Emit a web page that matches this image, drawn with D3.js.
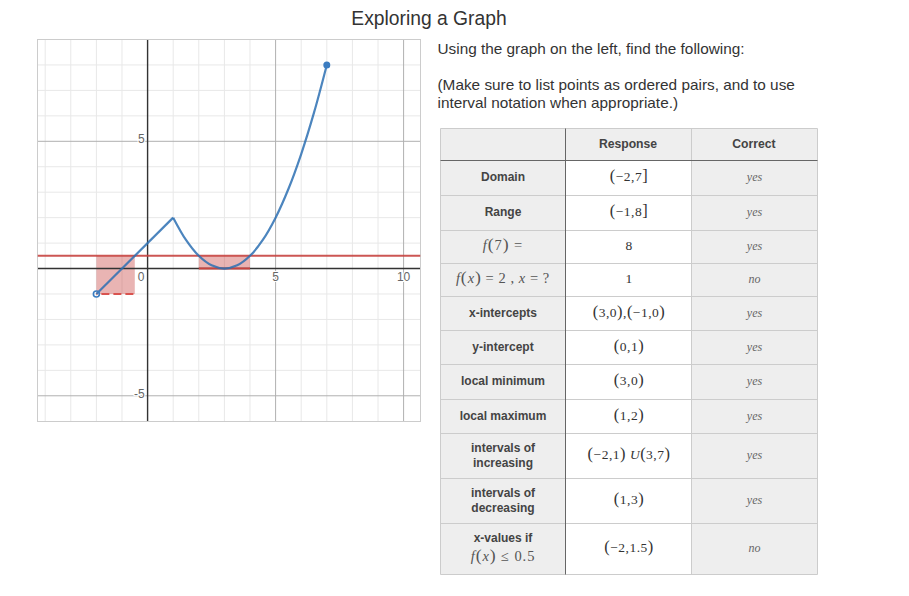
<!DOCTYPE html>
<html><head><meta charset="utf-8">
<script src="https://d3js.org/d3.v7.min.js"></script>
<style>html,body{margin:0;padding:0;background:#fff}svg{display:block}</style>
</head><body><svg id="c" width="909" height="596"></svg>
<script>
const title = "Exploring a Graph";
const intro = ["Using the graph on the left, find the following:", "", "(Make sure to list points as ordered pairs, and to use", "interval notation when appropriate.)"];
const lineX = [-2, 1];
const lineY = [-1, 2];
const curveX = [1, 1.5, 2, 2.5, 3, 3.5, 4, 4.5, 5, 5.5, 6, 6.5, 7];
const curveY = [2, 1.125, 0.5, 0.125, 0, 0.125, 0.5, 1.125, 2, 3.125, 4.5, 6.125, 8];
const refLevel = 0.5;
const shadeX = [[-2, -0.5], [2, 4]];
const shadeY = [[-1, 0.5], [0, 0.5]];
const minorX = [-4, -3, -2, -1, 1, 2, 3, 4, 6, 7, 8, 9];
const majorX = [5, 10];
const minorY = [-4, -3, -2, -1, 1, 2, 3, 4, 6, 7, 8];
const majorY = [-5, 5];
const xTickLabels = [0, 5, 10];
const yTickLabels = [5, -5];
const headers = ["", "Response", "Correct"];
const rowLabels = [["Domain"], ["Range"], ["$f(7) ="], ["$f(x)\u2009=\u20092\u2009,\u2009x\u2009=\u2009?"], ["x-intercepts"], ["y-intercept"], ["local minimum"], ["local maximum"], ["intervals of", "increasing"], ["intervals of", "decreasing"], ["x-values if", "$f(x) \u2264 0.5"]];
const responses = ["(\u22122,7]", "(\u22121,8]", "8", "1", "(3,0),(\u22121,0)", "(0,1)", "(3,0)", "(1,2)", "(\u22122,1) U(3,7)", "(1,3)", "(\u22122,1.5)"];
const corrects = ["yes", "yes", "yes", "no", "yes", "yes", "yes", "yes", "yes", "yes", "no"];
const rowEdges = [128.5, 160.5, 195.5, 230.5, 263.5, 296.5, 330.5, 364.5, 399.5, 433.5, 478.5, 523.5, 574.5];
const colEdges = [440.5, 565.5, 691.5, 817.5];

const svg = d3.select("#c");
const sans = "'Liberation Sans', Arial, sans-serif";
const serif = "'Liberation Serif', 'Times New Roman', serif";
const P = {l: 37.5, r: 420.5, t: 39.5, b: 421.5};
const x = d3.scaleLinear().domain([-4.3, 10.66]).range([P.l, P.r]);
const y = d3.scaleLinear().domain([-6.01, 9]).range([P.b, P.t]);
const clipId = "plot";
svg.append("defs").append("clipPath").attr("id", clipId).append("rect").attr("x", P.l).attr("y", P.t).attr("width", P.r - P.l).attr("height", P.b - P.t);

svg.append("text").attr("x", 429).attr("y", 25).attr("text-anchor", "middle").attr("font-family", sans).attr("font-size", 19.3).attr("fill", "#333").text(title);
svg.append("g").selectAll("text").data(intro).join("text").attr("x", 437.5).attr("y", (d, i) => 54 + i * 18).attr("font-family", sans).attr("font-size", 15.35).attr("fill", "#333").text(d => d);

function grid(gen, vals, col, sw, tx) {
  const g = svg.append("g").attr("transform", tx).call(gen.offset(0).tickValues(vals).tickFormat("").tickSizeOuter(0));
  g.select(".domain").remove();
  g.selectAll("line").attr("stroke", col).attr("stroke-width", sw);
}
grid(d3.axisBottom(x).tickSize(P.t - P.b), minorX, "#e8e8e8", 1, `translate(0,${P.b})`);
grid(d3.axisLeft(y).tickSize(P.l - P.r), minorY, "#e8e8e8", 1, `translate(${P.l},0)`);
grid(d3.axisBottom(x).tickSize(P.t - P.b), majorX, "#b0b0b0", 1, `translate(0,${P.b})`);
grid(d3.axisLeft(y).tickSize(P.l - P.r), majorY, "#b0b0b0", 1, `translate(${P.l},0)`);

svg.append("g").selectAll("rect").data(shadeX).join("rect")
  .attr("x", d => x(d[0])).attr("width", d => x(d[1]) - x(d[0]))
  .attr("y", (d, i) => y(shadeY[i][1])).attr("height", (d, i) => y(shadeY[i][0]) - y(shadeY[i][1]))
  .attr("fill", "#c74440").attr("fill-opacity", 0.4);

grid(d3.axisBottom(x).tickSize(P.t - P.b), [0], "#333", 1.4, `translate(0,${P.b})`);
grid(d3.axisLeft(y).tickSize(P.l - P.r), [0], "#333", 1.4, `translate(${P.l},0)`);

svg.append("rect").attr("x", P.l).attr("y", P.t).attr("width", P.r - P.l).attr("height", P.b - P.t).attr("fill", "none").attr("stroke", "#ccc").attr("stroke-width", 1);

const tick = svg.append("g").attr("font-family", sans).attr("font-size", 12).attr("fill", "#666")
  .attr("stroke", "#fff").attr("stroke-width", 2).attr("paint-order", "stroke");
tick.selectAll(".xl").data(xTickLabels).join("text").attr("text-anchor", "middle")
  .attr("x", d => d === 0 ? x(d) - 6.5 : x(d)).attr("y", y(0) + 12.5).text(d => d);
tick.selectAll(".yl").data(yTickLabels).join("text").attr("text-anchor", "end")
  .attr("x", x(0) - 3).attr("y", d => y(d) + 2).text(d => d < 0 ? "-" + Math.abs(d) : d);

const plot = svg.append("g").attr("clip-path", `url(#${clipId})`);
plot.append("line").attr("x1", P.l).attr("x2", P.r).attr("y1", y(refLevel)).attr("y2", y(refLevel)).attr("stroke", "#c74440").attr("stroke-width", 2).attr("stroke-opacity", 0.9);
plot.append("line").attr("x1", x(shadeX[0][0])).attr("x2", x(shadeX[0][1])).attr("y1", y(shadeY[0][0])).attr("y2", y(shadeY[0][0])).attr("stroke", "#d9534f").attr("stroke-width", 2).attr("stroke-dasharray", "8 4").attr("stroke-dashoffset", -5);
plot.append("line").attr("x1", x(shadeX[1][0])).attr("x2", x(shadeX[1][1])).attr("y1", y(shadeY[1][0])).attr("y2", y(shadeY[1][0])).attr("stroke", "#c74440").attr("stroke-width", 2);

const line = d3.line().x(d => x(d[0])).y(d => y(d[1]));
plot.append("path").attr("d", line(d3.zip(lineX, lineY))).attr("fill", "none").attr("stroke", "#2d70b3").attr("stroke-opacity", 0.85).attr("stroke-width", 2.2);
plot.append("path").attr("d", line.curve(d3.curveCatmullRom)(d3.zip(curveX, curveY))).attr("fill", "none").attr("stroke", "#2d70b3").attr("stroke-opacity", 0.85).attr("stroke-width", 2.2);
plot.append("circle").attr("cx", x(lineX[0])).attr("cy", y(lineY[0])).attr("r", 3).attr("fill", "none").attr("stroke", "#3b7cc0").attr("stroke-width", 1.6);
plot.append("circle").attr("cx", x(curveX[curveX.length - 1])).attr("cy", y(curveY[curveY.length - 1])).attr("r", 3.5).attr("fill", "#3b7cc0");

const t = svg.append("g");
const nCols = colEdges.length - 1, nRows = rowEdges.length - 1;
for (let r = 0; r < nRows; r++) for (let c = 0; c < nCols; c++) {
  t.append("rect").attr("x", colEdges[c]).attr("y", rowEdges[r]).attr("width", colEdges[c + 1] - colEdges[c]).attr("height", rowEdges[r + 1] - rowEdges[r])
    .attr("fill", (r > 0 && c === 1) ? "#fff" : "#eee");
}
t.selectAll(".h").data(rowEdges).join("line").attr("x1", colEdges[0]).attr("x2", colEdges[nCols]).attr("y1", d => d).attr("y2", d => d).attr("stroke", "#ccc").attr("stroke-width", 1);
t.selectAll(".v").data(colEdges).join("line").attr("y1", rowEdges[0]).attr("y2", rowEdges[nRows]).attr("x1", d => d).attr("x2", d => d).attr("stroke", (d, i) => i === 1 ? "#666" : "#ccc").attr("stroke-width", 1);
t.append("line").attr("x1", colEdges[0]).attr("x2", colEdges[nCols]).attr("y1", rowEdges[1]).attr("y2", rowEdges[1]).attr("stroke", "#666");

function mathText(sel, str, size, col, spacing) {
  sel.attr("font-family", serif).attr("font-size", size).attr("fill", col).attr("letter-spacing", spacing).attr("xml:space", "preserve");
  (str.match(/[A-Za-z]|[()\[\]]|[^A-Za-z()\[\]]+/g) || []).forEach(tok => {
    const s = sel.append("tspan").text(tok);
    if (/[A-Za-z]/.test(tok)) s.attr("font-style", "italic");
    if (/[()\[\]]/.test(tok)) s.attr("font-size", size * 1.22);
  });
}
const cx = c => (colEdges[c] + colEdges[c + 1]) / 2;
const cy = r => (rowEdges[r] + rowEdges[r + 1]) / 2;
headers.forEach((h, c) => {
  if (h) t.append("text").attr("x", cx(c) - 0.5).attr("y", cy(0) + 3.6).attr("text-anchor", "middle").attr("font-family", sans).attr("font-weight", "bold").attr("font-size", 12.2).attr("fill", "#444").text(h);
});
rowLabels.forEach((lines, i) => {
  const r = i + 1;
  const hasMath = lines.length > 1 && lines[1][0] === "$";
  const gap = hasMath ? 19 : 15;
  const top = cy(r) + 3 - (lines.length - 1) * 7.5 - (hasMath ? 3 : 0);
  lines.forEach((ln, j) => {
    const tx = t.append("text").attr("x", cx(0)).attr("y", top + j * gap).attr("text-anchor", "middle");
    if (ln[0] === "$") mathText(tx, ln.slice(1), 14.5, "#555", 0.9);
    else tx.attr("font-family", sans).attr("font-weight", "bold").attr("font-size", 12).attr("fill", "#444").text(ln);
  });
  const rs = t.append("text").attr("x", cx(1) + 0.5).attr("y", cy(r) + 3.4).attr("text-anchor", "middle");
  mathText(rs, responses[i], 13.5, "#333", 0.5);
  t.append("text").attr("x", cx(2)).attr("y", cy(r) + 3).attr("text-anchor", "middle").attr("font-family", serif).attr("font-style", "italic").attr("font-size", 12).attr("fill", "#666").text(corrects[i]);
});
</script></body></html>
